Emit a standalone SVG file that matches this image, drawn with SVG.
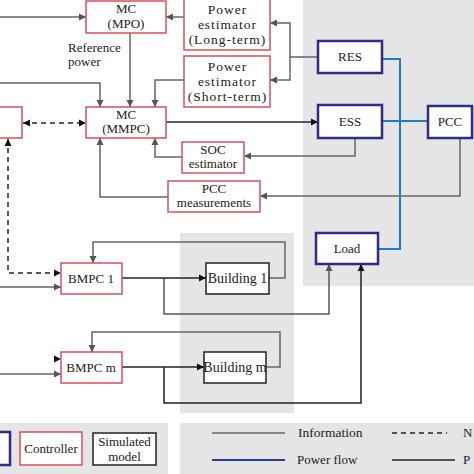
<svg xmlns="http://www.w3.org/2000/svg" width="474" height="474" viewBox="0 0 474 474">
<defs>
<style>
.bg{fill:#e5e5e5;stroke:none}
.ctl{fill:#fff;stroke:#d4505c;stroke-width:1.5}
.phy{fill:#fff;stroke:#2b2d86;stroke-width:2.5}
.sim{fill:#fff;stroke:#222;stroke-width:1.5}
text{font-family:"Liberation Serif","Times New Roman",serif;font-size:13px;fill:#222;text-anchor:middle}
.big{font-size:13.5px;letter-spacing:1px}
.bld{font-size:14px}
.info{fill:none;stroke:#666;stroke-width:1.5}
.blk{fill:none;stroke:#222;stroke-width:1.5}
.dash{fill:none;stroke:#222;stroke-width:1.5;stroke-dasharray:5,4}
.pow{fill:none;stroke:#1b7bd0;stroke-width:2}
</style>
<marker id="ag" markerUnits="userSpaceOnUse" markerWidth="8" markerHeight="8" refX="7" refY="4" orient="auto"><path d="M0,0.5 L7,4 L0,7.5 z" fill="#555"/></marker>
<marker id="ab" markerUnits="userSpaceOnUse" markerWidth="8" markerHeight="8" refX="7" refY="4" orient="auto-start-reverse"><path d="M0,0.5 L7,4 L0,7.5 z" fill="#111"/></marker>
</defs>
<rect width="474" height="474" fill="#fff"/>
<g id="regions">
<rect class="bg" x="303" y="0" width="171" height="286"/>
<rect class="bg" x="180" y="233" width="114" height="180"/>
<rect class="bg" x="0" y="423" width="168" height="51"/>
<rect class="bg" x="180" y="423" width="294" height="51"/>
</g>
<g id="connectors">
<path class="info" d="M0,17 H86" marker-end="url(#ag)"/>
<path class="info" d="M184,17 H166" marker-end="url(#ag)"/>
<path class="info" d="M318,57 H290 V23 H270" marker-end="url(#ag)"/>
<path class="info" d="M290,57 V80 H270" marker-end="url(#ag)"/>
<path class="info" d="M184,80 H155 V107" marker-end="url(#ag)"/>
<path class="info" d="M130,33 V107" marker-end="url(#ag)"/>
<path class="info" d="M0,83 H100 V107" marker-end="url(#ag)"/>
<path class="info" d="M355,138 V156 H244" marker-end="url(#ag)"/>
<path class="info" d="M182,157 H155 V138" marker-end="url(#ag)"/>
<path class="info" d="M168,197 H100 V138" marker-end="url(#ag)"/>
<path class="info" d="M460,138 V196 H260" marker-end="url(#ag)"/>
<path class="info" d="M269,278 H285 V242 H93 V263" marker-end="url(#ag)"/>
<path class="info" d="M0,287 H61" marker-end="url(#ag)"/>
<path class="info" d="M265,367 H280 V332 H92 V352" marker-end="url(#ag)"/>
<path class="info" d="M0,374 H61" marker-end="url(#ag)"/>
<path class="info" d="M164,278 V314 H329 V264" marker-end="url(#ag)" style="stroke:#555"/>
<path class="blk" d="M166,122 H318" marker-end="url(#ab)"/>
<path class="blk" d="M122,278 H206" marker-end="url(#ab)"/>
<path class="blk" d="M122,367 H204" marker-end="url(#ab)"/>
<path class="blk" d="M164,367 V403 H361 V264" marker-end="url(#ab)"/>
<path class="dash" d="M23,123 H86" marker-start="url(#ab)" marker-end="url(#ab)"/>
<path class="dash" d="M8,139 V273 H61" marker-start="url(#ab)" marker-end="url(#ab)"/>
<path d="M54,355.5 L61,359 L54,362.5 z" fill="#111"/>
<path class="pow" d="M382,59 H400 V249 H378"/>
<path class="pow" d="M382,121 H428"/>
</g>
<g id="mpo"><rect class="ctl" x="86" y="1" width="80" height="32"/><text x="126" y="13">MC</text><text x="126" y="28">(MPO)</text></g>
<g id="pe-long"><rect class="ctl" x="184" y="-1" width="86" height="51"/><text class="big" x="227.5" y="13.5">Power</text><text class="big" x="227.5" y="28.5">estimator</text><text class="big" x="227.5" y="43.5">(Long-term)</text></g>
<g id="pe-short"><rect class="ctl" x="184" y="56" width="86" height="51"/><text class="big" x="227.5" y="71">Power</text><text class="big" x="227.5" y="86">estimator</text><text class="big" x="227.5" y="101">(Short-term)</text></g>
<g id="refpower"><text x="68" y="52" style="text-anchor:start">Reference</text><text x="68" y="66" style="text-anchor:start">power</text></g>
<g id="leftbox"><rect class="ctl" x="-5" y="107" width="27" height="31"/></g>
<g id="mmpc"><rect class="ctl" x="86" y="107" width="80" height="31"/><text x="126" y="119">MC</text><text x="126" y="133">(MMPC)</text></g>
<g id="soc"><rect class="ctl" x="182" y="142" width="62" height="31"/><text x="213" y="154">SOC</text><text x="213" y="168">estimator</text></g>
<g id="pccm"><rect class="ctl" x="168" y="181" width="92" height="31"/><text x="214" y="193">PCC</text><text x="214" y="207">measurements</text></g>
<g id="res"><rect class="phy" x="318" y="41" width="64" height="32"/><text x="350" y="61">RES</text></g>
<g id="ess"><rect class="phy" x="318" y="105" width="64" height="33"/><text x="350" y="126">ESS</text></g>
<g id="pcc"><rect class="phy" x="428" y="106" width="44" height="32"/><text x="450" y="126">PCC</text></g>
<g id="load"><rect class="phy" x="316" y="233" width="62" height="31"/><text x="347" y="253">Load</text></g>
<g id="bmpc1"><rect class="ctl" x="61" y="263" width="61" height="31"/><text x="91" y="283">BMPC 1</text></g>
<g id="bld1"><rect class="sim" x="206" y="263" width="63" height="31"/><text class="bld" x="237.5" y="283">Building 1</text></g>
<g id="bmpcm"><rect class="ctl" x="61" y="352" width="61" height="31"/><text x="91" y="372">BMPC m</text></g>
<g id="bldm"><rect class="sim" x="204" y="352" width="62" height="31"/><text class="bld" x="235" y="372">Building m</text></g>
<g id="legend">
<rect class="phy" x="-5" y="432" width="15" height="33"/>
<rect class="ctl" x="20" y="432" width="62" height="33"/><text x="51" y="453">Controller</text>
<rect class="sim" x="93" y="433" width="63" height="32"/><text x="124.5" y="446">Simulated</text><text x="124.5" y="461">model</text>
<path class="info" d="M212,433 H285"/><text x="298" y="437" style="text-anchor:start;font-size:13.5px">Information</text>
<path class="dash" d="M392,433 H447"/><text x="463" y="437" style="text-anchor:start">N</text>
<path d="M212,460 H285" fill="none" stroke="#2a3d9a" stroke-width="2"/><text x="297" y="464" style="text-anchor:start">Power flow</text>
<path class="blk" d="M392,460 H455"/><text x="463" y="464" style="text-anchor:start">P</text>
</g>
</svg>
